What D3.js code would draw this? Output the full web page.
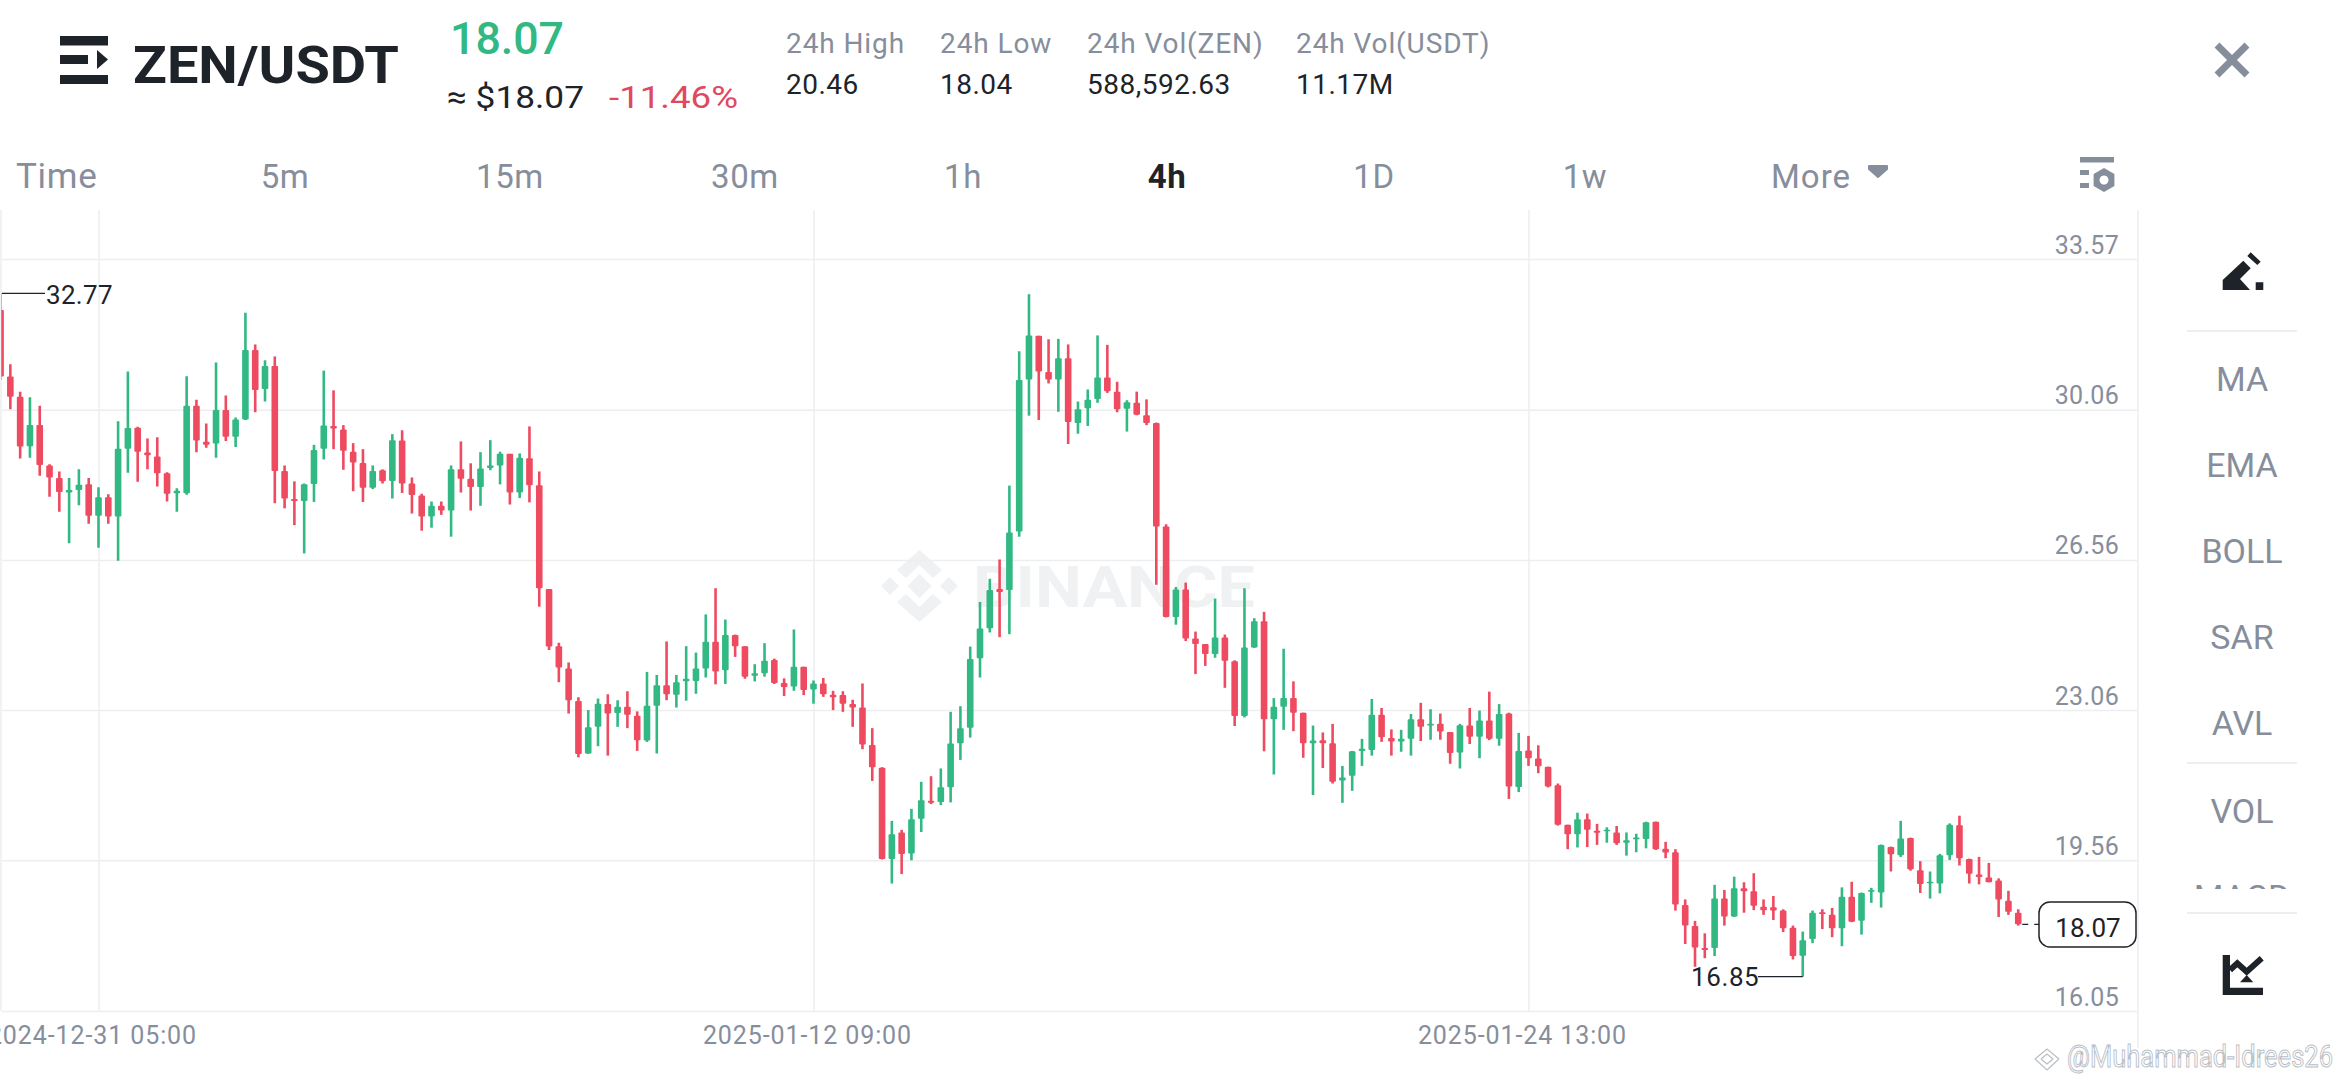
<!DOCTYPE html>
<html><head><meta charset="utf-8">
<script src="https://cdn.jsdelivr.net/npm/d3@7/dist/d3.min.js"></script>
<style>
html,body{margin:0;padding:0;background:#fff;overflow:hidden}
svg{display:block}
text{font-family:Roboto,"Noto Sans",sans-serif}
</style></head><body><div id="chart"></div>
<script>
const dirChunks=["RRRGRRRGGR","GRGGRRRRGG","RRGRGGRGRR","RGGGRRRRGR","GRRRGRGRRG","GGRGRRRRRR","GGRGRRGGRG","GGGRGRRGGR","RGRGRRRRRR","RGRGGRGGGG","GGRGGGRRGR","GGGRRGRRRR","GRRRGRRGGR","GGRRGRRGGG","GRRGGRGRRG","RGRGRGRRRR","RGRRGRGGGR","RRRRRGRGRR","RRRRGGRRGR","GGGRGRRGGG","RRRRRRR"];
const candleDirs=dirChunks.join("");
const highs=[32.77,31.12,30.48,30.35,30.15,28.79,28.62,28.47,28.67,28.47,
28.25,28.09,29.79,30.95,29.66,29.39,29.42,28.60,28.23,30.84,
30.29,29.74,31.16,30.39,29.88,32.32,31.58,31.21,31.30,28.76,
28.39,28.34,29.24,30.97,30.51,29.70,29.28,29.14,28.76,28.67,
29.49,29.58,28.48,28.10,27.92,27.92,28.76,29.32,28.81,29.07,
29.35,29.08,29.03,29.04,29.67,28.62,25.88,24.63,24.17,23.36,
23.06,23.33,23.43,23.29,23.50,23.03,23.95,23.88,24.66,23.88,
24.55,24.40,25.29,25.90,25.17,24.82,24.55,24.13,24.62,24.26,
23.80,24.94,24.07,23.75,23.81,23.51,23.50,23.30,23.68,22.64,
21.73,20.48,20.27,20.76,21.39,21.52,21.70,23.02,23.15,24.54,
25.58,26.12,26.57,28.29,31.42,32.75,31.78,31.70,31.71,31.58,
30.25,30.53,31.79,31.57,30.71,30.28,30.48,30.30,29.76,27.39,
25.93,26.03,24.89,24.60,25.66,24.82,24.22,25.90,25.20,25.35,
23.34,24.49,23.73,23.00,22.70,22.54,22.74,21.76,22.11,22.39,
23.32,23.11,22.61,22.60,22.97,23.23,23.08,22.98,22.55,22.74,
23.11,23.05,23.49,23.20,23.00,22.53,22.46,22.24,21.74,21.35,
20.39,20.67,20.65,20.41,20.33,20.36,20.21,20.18,20.46,20.46,
19.99,19.82,18.65,18.15,17.86,18.99,18.87,19.18,19.05,19.26,
18.65,18.73,18.42,18.04,17.90,18.39,18.42,18.45,18.93,19.06,
18.81,18.92,19.93,19.88,20.48,20.09,19.54,19.30,19.71,20.42,
20.60,19.60,19.64,19.50,19.14,18.85,18.42];
const bodyHighs=[32.38,30.83,30.36,29.70,29.70,28.76,28.47,28.19,28.31,28.32,
28.02,28.02,29.15,29.63,29.64,29.06,28.97,28.58,28.17,30.15,
30.15,29.31,30.05,30.05,29.83,31.45,31.45,31.08,31.08,28.63,
27.98,28.32,29.12,29.69,29.68,29.60,29.08,28.82,28.63,28.65,
29.35,29.34,28.34,28.06,27.82,27.82,28.67,28.67,28.45,28.69,
28.76,29.03,29.03,28.94,28.93,28.30,25.88,24.55,24.03,23.27,
22.66,23.21,23.20,23.14,23.14,22.93,23.16,23.64,23.64,23.71,
23.79,24.03,24.65,24.65,24.81,24.81,24.55,23.92,24.21,24.23,
23.69,24.07,24.07,23.68,23.68,23.42,23.41,23.20,23.12,22.25,
21.72,20.17,20.21,20.52,20.96,20.95,21.26,22.28,22.64,24.25,
24.96,25.86,25.88,27.20,30.75,31.79,31.78,30.94,31.26,31.26,
30.07,30.29,30.81,30.81,30.48,30.23,30.22,29.93,29.75,27.34,
25.87,25.87,24.73,24.60,24.75,24.75,24.20,24.52,25.13,25.13,
23.14,23.34,23.34,23.00,22.35,22.36,22.29,21.49,22.10,22.16,
22.95,22.95,22.41,22.39,22.85,22.85,22.74,22.74,22.55,22.71,
22.70,22.82,22.82,22.97,22.98,22.11,22.12,21.93,21.74,21.31,
20.39,20.52,20.52,20.25,20.27,20.21,20.03,20.09,20.45,20.46,
19.83,19.75,18.52,18.03,17.52,18.67,18.67,18.91,18.91,18.84,
18.48,18.47,18.39,17.99,17.70,18.34,18.35,18.29,18.71,18.71,
18.80,18.87,19.92,19.87,20.07,20.08,19.33,19.06,19.68,20.39,
20.38,19.59,19.23,19.16,19.09,18.62,18.34];
const bodyLows=[30.83,30.36,29.20,29.21,28.77,28.48,28.14,28.13,28.19,27.59,
27.59,27.57,27.57,29.15,29.08,29.00,28.58,28.10,28.11,28.11,
29.34,29.24,29.27,29.43,29.43,29.83,30.52,30.54,28.63,27.99,
27.93,27.93,28.33,29.15,29.62,29.10,28.83,28.24,28.24,28.39,
28.40,28.34,28.07,27.57,27.57,27.71,27.71,28.45,28.26,28.26,
28.70,28.76,28.13,28.13,28.30,25.90,24.54,24.05,23.29,22.04,
22.05,22.67,22.98,22.99,22.95,22.36,22.35,23.16,23.43,23.42,
23.73,23.74,24.03,23.96,23.99,24.55,23.84,23.86,23.92,23.69,
23.60,23.61,23.53,23.54,23.43,23.36,23.21,23.12,22.26,21.73,
19.59,19.59,19.71,19.72,20.53,20.90,20.92,21.26,22.29,22.65,
24.27,24.97,25.81,25.86,27.22,30.76,30.95,30.76,30.76,29.77,
29.75,30.09,30.31,30.49,30.07,30.08,29.94,29.75,27.34,25.23,
25.23,24.73,24.60,24.37,24.37,24.21,22.92,22.92,24.52,22.85,
22.85,23.14,23.00,22.29,22.29,22.29,21.39,21.42,21.53,22.11,
22.13,22.43,22.33,22.33,22.39,22.67,22.70,22.56,22.06,22.07,
22.44,22.44,22.39,22.39,21.28,21.27,21.94,21.75,21.28,20.39,
20.17,20.17,20.27,20.20,20.24,19.96,19.97,20.05,20.06,19.82,
19.74,18.53,18.04,17.53,17.47,17.52,18.25,18.25,18.84,18.50,
18.40,18.39,17.98,17.33,17.34,17.73,18.31,17.98,17.98,18.13,
18.15,18.83,18.81,19.70,19.68,19.35,19.01,19.03,19.02,19.68,
19.61,19.25,19.17,19.05,18.65,18.36,18.07];
const lows=[30.75,30.07,28.92,28.94,28.52,28.03,27.68,26.95,27.83,27.40,
26.84,27.40,26.54,28.59,28.38,28.67,28.27,27.92,27.68,28.08,
29.07,29.17,28.94,29.33,29.19,29.82,30.00,30.25,27.88,27.76,
27.37,26.71,27.91,28.90,29.14,28.66,28.16,27.91,28.21,28.34,
27.99,28.12,27.64,27.24,27.31,27.61,27.10,28.13,27.71,27.82,
28.65,28.32,27.85,28.00,27.90,25.47,24.46,23.71,22.98,21.96,
22.04,22.22,22.00,22.67,22.64,22.11,22.32,22.05,23.29,23.12,
23.28,23.44,23.82,23.66,23.67,24.30,23.79,23.73,23.84,23.67,
23.39,23.51,23.41,23.21,23.37,23.06,23.02,22.67,22.15,21.41,
19.58,19.02,19.24,19.56,20.22,20.87,20.85,20.91,21.90,22.42,
23.82,24.87,24.76,24.83,27.10,29.92,29.82,30.67,30.01,29.26,
29.50,29.68,30.22,30.45,30.00,29.55,29.93,29.70,25.98,25.22,
25.05,24.67,23.90,24.09,24.28,23.58,22.69,22.89,24.51,22.10,
21.56,22.60,22.57,21.95,21.08,21.71,21.35,20.90,21.18,21.76,
22.00,22.32,22.00,22.09,22.00,22.34,22.37,22.37,21.81,21.70,
22.27,21.94,22.36,22.23,20.99,21.15,21.76,21.59,21.26,20.37,
19.82,19.86,19.87,19.92,19.97,19.92,19.67,19.75,19.84,19.80,
19.61,18.39,17.61,17.08,17.28,17.33,18.04,18.24,18.34,18.40,
18.29,18.17,17.89,17.25,16.85,17.63,17.96,17.77,17.56,18.12,
17.83,18.57,18.46,19.30,19.64,19.32,18.80,18.67,18.79,19.57,
19.44,19.02,19.00,19.05,18.24,18.29,18.04];
const priceTicks=[33.57,30.06,26.56,23.06,19.56,16.05];
const timeTickIndex=[10,83,156];
const timeTickLabels=["2024-12-31 05:00","2025-01-12 09:00","2025-01-24 13:00"];
const timeframes=["5m","15m","30m","1h","4h","1D","1w"];
const timeframeX=[285,510,745,963,1167,1374,1585];
const indicators=["MA","EMA","BOLL","SAR","AVL","VOL","MACD"];
const indicatorY=[391,477,563,649,735,823,909];
const stats=[["24h High","20.46",786],["24h Low","18.04",940],["24h Vol(ZEN)","588,592.63",1087],["24h Vol(USDT)","11.17M",1296]];

const GREEN="#31b883",RED="#ee4a60",GRAY="#868e9c",DARK="#1e2329",LINE="#eceef0";
const svg=d3.select("#chart").append("svg").attr("width",2340).attr("height",1080);
const defs=svg.append("defs");
defs.append("clipPath").attr("id","plot").append("rect").attr("x",1.5).attr("y",205).attr("width",2135).attr("height",845);
defs.append("clipPath").attr("id","macd").append("rect").attr("x",2160).attr("y",880).attr("width",170).attr("height",9);

const x=d3.scaleLinear().domain([timeTickIndex[0],timeTickIndex[2]]).range([98.5,1528.5]);
const y=d3.scaleLinear().domain([33.57,16.05]).range([259,1011]);

// header
const txt=(s,px,py,size,fill,opt={})=>{const t=svg.append("text").attr("x",px).attr("y",py).attr("font-size",size).attr("fill",fill).text(s);
 for(const k in opt)t.attr(k,opt[k]);return t;};
svg.append("path").attr("fill",DARK).attr("d","M60 36H108V45.5H60ZM60 55H88V64H60ZM97 50L108 59.5L97 69ZM60 75H108V84H60Z");
txt("ZEN/USDT",133,83,52,DARK,{"font-weight":700,textLength:266,lengthAdjust:"spacingAndGlyphs"});
txt("18.07",450,54,44,GREEN,{"font-weight":500,textLength:114,lengthAdjust:"spacingAndGlyphs"});
txt("≈ $18.07",447,108,32,DARK,{textLength:137,lengthAdjust:"spacingAndGlyphs"});
txt("-11.46%",609,108,32,"#e0485f",{textLength:129,lengthAdjust:"spacingAndGlyphs"});
stats.forEach(s=>{txt(s[0],s[2],53,28,GRAY,{"letter-spacing":0.9});txt(s[1],s[2],94,28,DARK,{"letter-spacing":0.5});});
svg.append("path").attr("stroke",GRAY).attr("stroke-width",7).attr("fill","none").attr("d","M2217 45L2247 75M2247 45L2217 75");

// time frames
txt("Time",16,188,35,GRAY,{"letter-spacing":0.7});
timeframes.forEach((s,i)=>txt(s,timeframeX[i],188,33,s==="4h"?DARK:GRAY,{"text-anchor":"middle","font-weight":s==="4h"?700:400,"letter-spacing":0.6}));
txt("More",1771,188,33,GRAY,{"letter-spacing":1});
svg.append("path").attr("fill",GRAY).attr("stroke",GRAY).attr("stroke-width",2).attr("stroke-linejoin","round").attr("d","M1869 166H1887V169L1878 177L1869 169Z");
svg.append("path").attr("fill",GRAY).attr("d","M2080 157H2114V162.5H2080ZM2080 170H2089V175H2080ZM2080 183H2089V188H2080Z");
svg.append("path").attr("fill",GRAY).attr("fill-rule","evenodd").attr("d","M2104 168L2114.4 174V186L2104 192L2093.6 186V174Z M2104 175.5a4.5 4.5 0 1 0 .01 0Z");

// watermark inside plot
svg.append("path").attr("fill","#eff1f2").attr("d","M919.5 550L942 570L933 578L919.5 565L906 578L897 570ZM881 586L890 577L899 586L890 595ZM907.5 586L919.5 574L931.5 586L919.5 598ZM940 586L949 577L958 586L949 595ZM919.5 622L897 602L906 594L919.5 607L933 594L942 602Z");
txt("BINANCE",973,607,58,"#eff1f2",{"font-weight":700,textLength:282,lengthAdjust:"spacingAndGlyphs"});

// grid and axes
const yAxis=d3.axisLeft(y).tickValues(priceTicks).tickSize(2135).tickPadding(0).tickFormat(d3.format(".2f"));
const gy=svg.append("g").attr("transform","translate(2137,0)").call(yAxis);
gy.select(".domain").remove();
gy.selectAll("line").attr("stroke",LINE).attr("stroke-width",1.5);
gy.selectAll("text").attr("x",-18).attr("dy",-6).attr("font-size",25).attr("fill",GRAY).attr("font-family","Roboto").attr("text-anchor","end").attr("letter-spacing",0.3);

const xAxis=d3.axisBottom(x).tickValues(timeTickIndex).tickSize(-(1011-210)).tickPadding(0).tickFormat((d,i)=>timeTickLabels[i]);
const gx=svg.append("g").attr("transform","translate(0,1011)").call(xAxis);
gx.select(".domain").remove();
gx.selectAll("line").attr("stroke",LINE).attr("stroke-width",1.5);
gx.selectAll("text").attr("x",98).attr("text-anchor","end").attr("y",33).attr("dy",0).attr("font-size",25).attr("fill",GRAY).attr("font-family","Roboto").attr("letter-spacing",0.9);
svg.append("line").attr("x1",1).attr("x2",1).attr("y1",210).attr("y2",1011).attr("stroke",LINE).attr("stroke-width",1.5);
svg.append("line").attr("x1",2138).attr("x2",2138).attr("y1",210).attr("y2",1048).attr("stroke",LINE).attr("stroke-width",1.5);

// candles
const candles=d3.range(highs.length);
const colorOf=i=>candleDirs[i]==="G"?GREEN:RED;
const gc=svg.append("g").attr("clip-path","url(#plot)");
gc.selectAll("line.wick").data(candles).join("line").attr("class","wick")
 .attr("x1",x).attr("x2",x).attr("y1",i=>y(highs[i])).attr("y2",i=>y(lows[i]))
 .attr("stroke",colorOf).attr("stroke-width",2.6);
gc.selectAll("rect.body").data(candles).join("rect").attr("class","body")
 .attr("x",i=>x(i)-3.3).attr("width",6.6).attr("y",i=>y(bodyHighs[i]))
 .attr("height",i=>Math.max(1.5,y(bodyLows[i])-y(bodyHighs[i]))).attr("rx",1).attr("fill",colorOf);

// high / low / last markers
const hi=32.77,lo=16.85,last=18.07;
svg.append("line").attr("x1",2).attr("x2",45).attr("y1",y(hi)).attr("y2",y(hi)).attr("stroke",DARK).attr("stroke-width",1.2);
txt(d3.format(".2f")(hi),46,304,26,DARK,{"letter-spacing":0.3});
svg.append("line").attr("x1",1758).attr("x2",x(184)).attr("y1",y(lo)).attr("y2",y(lo)).attr("stroke",DARK).attr("stroke-width",1.2);
txt(d3.format(".2f")(lo),1691,986,26,DARK,{"letter-spacing":0.6});
svg.append("line").attr("x1",x(206)+4).attr("x2",2039).attr("y1",y(last)).attr("y2",y(last)).attr("stroke",DARK).attr("stroke-width",1.2).attr("stroke-dasharray","6 6");
svg.append("rect").attr("x",2039).attr("y",902).attr("width",97).attr("height",45).attr("rx",11).attr("fill","#fff").attr("stroke",DARK).attr("stroke-width",1.5);
txt(d3.format(".2f")(last),2088,937,26,DARK,{"text-anchor":"middle"});

// right panel
svg.append("path").attr("fill",DARK).attr("d","M2222.7 280L2243.3 260.7L2250.7 268.3L2240 279L2250 290H2222.7ZM2247.3 256L2250.7 252.3L2260.7 261.7L2257.3 265ZM2255.7 282.3H2263.3V290H2255.7Z");
[331,763,913].forEach(v=>svg.append("line").attr("x1",2187).attr("x2",2297).attr("y1",v).attr("y2",v).attr("stroke",LINE).attr("stroke-width",2));
indicators.forEach((s,i)=>{const t=txt(s,2242,indicatorY[i],34,GRAY,{"text-anchor":"middle"});if(s==="MACD")t.attr("clip-path","url(#macd)");});
svg.append("path").attr("fill",DARK).attr("d","M2222.7 955H2230V987.7H2263V995H2222.7Z");
svg.append("path").attr("fill","none").attr("stroke",DARK).attr("stroke-width",6).attr("d","M2230 970L2237.3 963.3L2246.7 971.7L2261.7 958.3");
svg.append("path").attr("fill",DARK).attr("d","M2240 982.3L2246.7 975L2253.3 982.3Z");

// image watermark
txt("@Muhammad-Idrees26",2067,1067,31,"#fff",{stroke:"#b9bec5","stroke-width":1,textLength:266,lengthAdjust:"spacingAndGlyphs"});
svg.append("path").attr("fill","none").attr("stroke","#b9bec5").attr("stroke-width",1.2).attr("d","M2035 1059L2047 1049L2059 1059M2041 1059L2047 1054L2053 1059M2035 1059L2047 1070L2059 1059M2041 1059L2047 1064L2053 1059");
</script></body></html>
